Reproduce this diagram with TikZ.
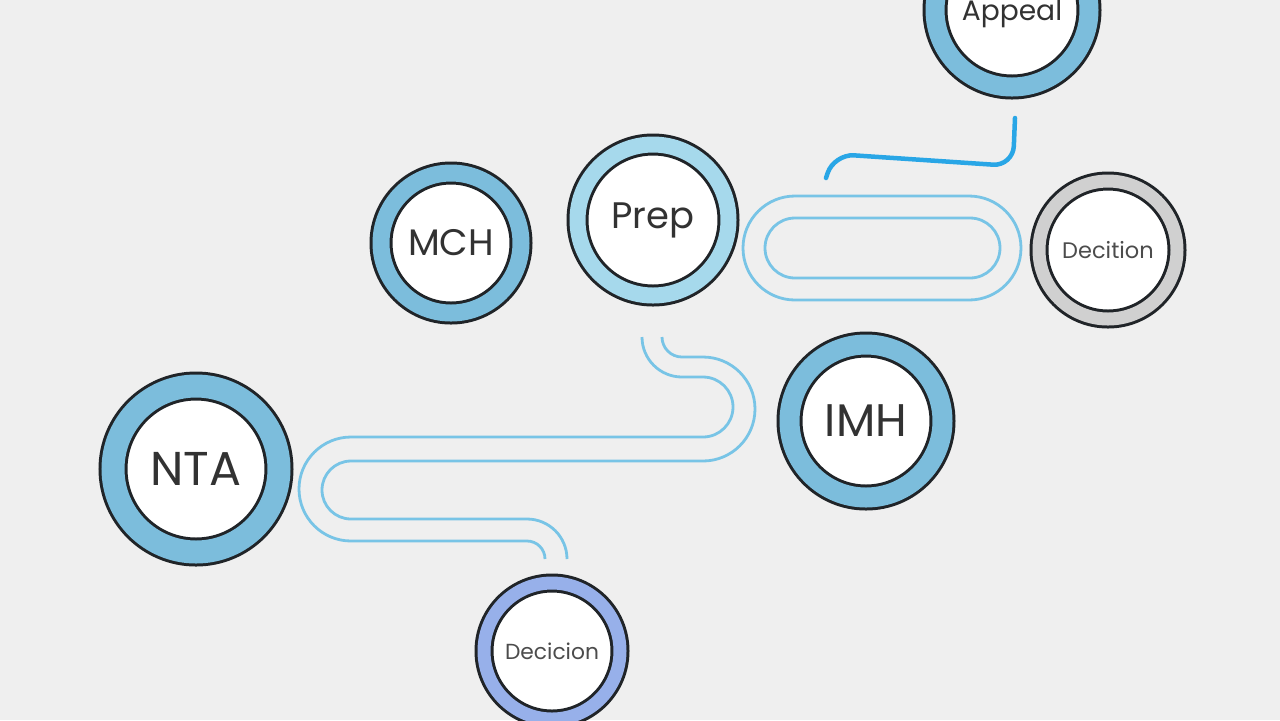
\documentclass[tikz,border=0pt]{standalone}
\usepackage{fontspec}
\setmainfont{Poppins}
\usepackage{tikz}

\definecolor{bggray}{RGB}{239,239,239}
\definecolor{ringline}{RGB}{32,36,40}
\definecolor{ringblue}{RGB}{124,189,220}
\definecolor{ringpale}{RGB}{166,217,236}
\definecolor{ringgray}{RGB}{208,208,208}
\definecolor{ringviolet}{RGB}{151,176,234}
\definecolor{trackblue}{RGB}{120,196,230}
\definecolor{linkblue}{RGB}{41,166,230}
\definecolor{labelgray}{RGB}{50,50,50}

\begin{document}
\begin{tikzpicture}[x=0.1mm,y=-0.1mm,
  ring/.style={circle,draw=ringline,line width=0.3mm,double=#1,fill=white,
    text=labelgray,inner sep=0pt},
  track/.style={draw=trackblue,line width=0.28mm},
  feed/.style={draw=linkblue,line width=0.45mm,line cap=round,rounded corners=2mm}]
\useasboundingbox (0,0) rectangle (1280,720);
\fill[bggray] (0,0) rectangle (1280,720);

\node[ring=ringblue,double distance=1.9mm,minimum size=15.4mm,text depth=0pt,
  font=\fontsize{8}{10}\selectfont] (appeal) at (1012,10) {Appeal};
\node[ring=ringblue,double distance=1.7mm,minimum size=14mm,
  font=\fontsize{10.5}{12}\selectfont] (mch) at (451,243) {MCH};
\node[ring=ringpale,double distance=1.6mm,minimum size=15.1mm,
  font=\fontsize{10.5}{12}\selectfont] (prep) at (653,220) {Prep};
\node[ring=ringgray,double distance=1.3mm,minimum size=13.8mm,text=black!70,
  font=\fontsize{6.4}{8}\selectfont] (decr) at (1108,250) {Decition};
\node[ring=ringblue,double distance=2mm,minimum size=15.3mm,
  font=\fontsize{13}{15}\selectfont] (imh) at (866,421) {IMH};
\node[ring=ringblue,double distance=2.3mm,minimum size=16.6mm,
  font=\fontsize{13.5}{15}\selectfont] (nta) at (196,469) {NTA};
\node[ring=ringviolet,double distance=1.3mm,minimum size=13.6mm,text=black!70,
  font=\fontsize{6.2}{8}\selectfont] (decb) at (552,651) {Decicion};

\coordinate (feedtop) at (1015,118);
\coordinate (feedend) at (826,178);
\draw[feed] (feedtop) -- (1013,166) -- (834,154) -- (feedend);

\draw[track,rounded corners=5.2mm] (743,196) rectangle (1021,300);
\draw[track,rounded corners=3mm] (765,218) rectangle (1000,278);

\coordinate (snakea) at (642,337);
\coordinate (snakeb) at (662,337);
\draw[track] (snakea) arc[start angle=180,end angle=270,radius=4mm]
  -- (703,377) arc[start angle=90,end angle=-90,radius=3mm]
  -- (351,437) arc[start angle=90,end angle=270,radius=5.2mm]
  -- (527,541) arc[start angle=90,end angle=0,radius=1.8mm];
\draw[track] (snakeb) arc[start angle=180,end angle=270,radius=2mm]
  -- (703,357) arc[start angle=90,end angle=-90,radius=5.2mm]
  -- (351,461) arc[start angle=90,end angle=270,radius=2.9mm]
  -- (527,519) arc[start angle=90,end angle=0,radius=4mm];
\end{tikzpicture}
\end{document}
